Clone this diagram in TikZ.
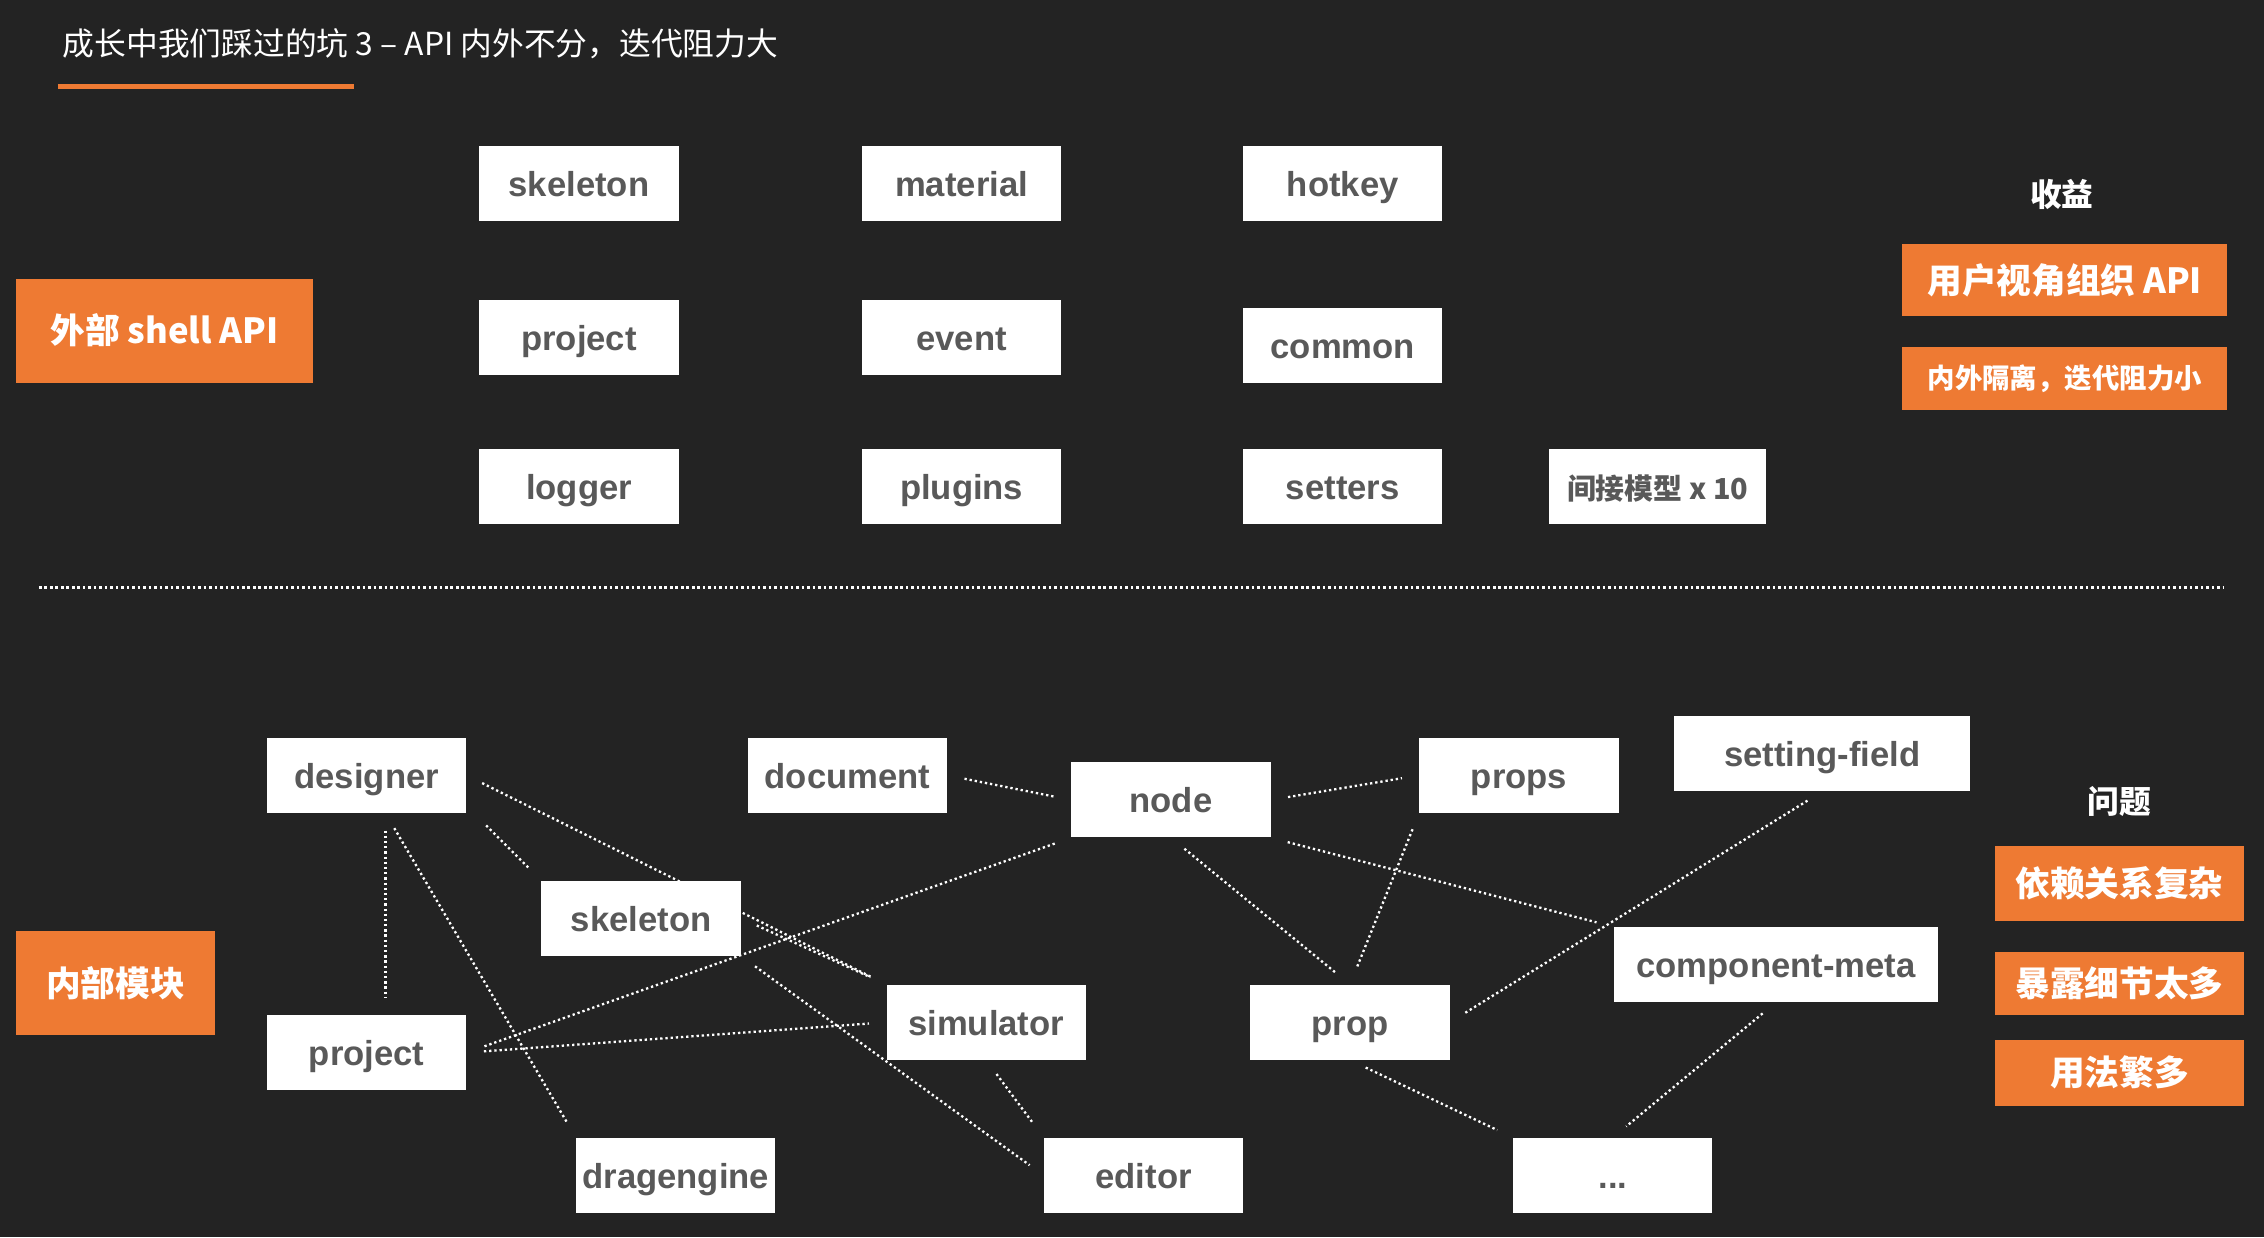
\documentclass[tikz,border=0pt]{standalone}
\usepackage{fontspec}
\setmainfont{Liberation Sans}
\newfontfamily\cjk{Noto Sans CJK SC}
\begin{document}
\begin{tikzpicture}[x=1pt,y=-1pt,
  box/.style={fill=white,text=black!65,font=\bfseries\fontsize{24}{28}\selectfont,minimum width=138pt,minimum height=52pt,inner sep=0pt,text height=20pt,text depth=2pt},
  obox/.style={fill=oc,text=white,font=\cjk\bfseries\fontsize{24}{28}\selectfont,inner sep=0pt},
  dl/.style={white,dotted,line width=1.6pt,shorten >=12pt,shorten <=12pt}]
\definecolor{oc}{HTML}{EE7A33}
\definecolor{bg}{HTML}{232323}
\fill[bg] (0,0) rectangle (1568,857);
\useasboundingbox (0,0) rectangle (1568,857);
\node[anchor=west,text=white,font=\cjk\fontsize{22}{26}\selectfont] (title) at (40,30) {成长中我们踩过的坑 3 – API 内外不分，迭代阻力大};
\draw[oc,line width=3pt] (40,60) -- (245,60);
% top
\node[box] (t1) at (401,127) {skeleton};
\node[box] (t2) at (666,127) {material};
\node[box] (t3) at (930,127) {hotkey};
\node[box] (t4) at (401,234) {project};
\node[box] (t5) at (666,234) {event};
\node[box] (t6) at (930,239) {common};
\node[box] (t7) at (401,337) {logger};
\node[box] (t8) at (666,337) {plugins};
\node[box] (t9) at (930,337) {setters};
\node[box,minimum width=150pt,font=\cjk\bfseries\fontsize{20}{24}\selectfont] (t10) at (1148,337) {间接模型 x 10};
\node[obox,minimum width=206pt,minimum height=72pt] (ext) at (114,229) {外部 shell API};
\node[text=white,font=\cjk\bfseries\fontsize{22}{26}\selectfont] (gain) at (1428,135) {收益};
\node[obox,minimum width=225pt,minimum height=50pt] (g1) at (1430,194) {用户视角组织 API};
\node[obox,minimum width=225pt,minimum height=44pt,font=\cjk\bfseries\fontsize{19}{22}\selectfont] (g2) at (1430,262) {内外隔离，迭代阻力小};
\draw[white,dotted,line width=1.8pt] (27,407) -- (1540,407);
% bottom
\node[box] (designer) at (254,537) {designer};
\node[box] (document) at (587,537) {document};
\node[box] (node) at (811,554) {node};
\node[box] (props) at (1052,537) {props};
\node[box,minimum width=205pt] (sf) at (1262,522) {setting-field};
\node[box] (skel) at (444,636) {skeleton};
\node[box] (sim) at (683,708) {simulator};
\node[box] (prop) at (935,708) {prop};
\node[box,minimum width=225pt] (cm) at (1230,668) {component-meta};
\node[box] (project) at (254,729) {project};
\node[box] (drag) at (468,814) {dragengine};
\node[box] (editor) at (792,814) {editor};
\node[box] (dots) at (1117,814) {...};
\node[obox,minimum width=138pt,minimum height=72pt] (int) at (80,681) {内部模块};
\node[text=white,font=\cjk\bfseries\fontsize{22}{26}\selectfont] (q) at (1468,555) {问题};
\node[obox,minimum width=172pt,minimum height=52pt] (q1) at (1468,612) {依赖关系复杂};
\node[obox,minimum width=172pt,minimum height=44pt] (q2) at (1468,681) {暴露细节太多};
\node[obox,minimum width=172pt,minimum height=46pt] (q3) at (1468,743) {用法繁多};
% connectors
\draw[dl] ([xshift=5pt]designer.south east) -- (skel.north west);
\draw[dl] (designer.east) -- (sim.north west);
\draw[dl] ([xshift=13pt]designer.south) -- (drag.north west);
\draw[dl] ([xshift=13pt]designer.south) -- ([xshift=13pt]project.north);
\draw[dl] (document.east) -- (node.west);
\draw[dl] (node.south west) -- (project.east);
\draw[dl] (node.east) -- (props.west);
\draw[dl] (node.south) -- (prop.north);
\draw[dl] (node.south east) -- (cm.north west);
\draw[dl] (props.south west) -- (prop.north);
\draw[dl] (sf.south) -- (prop.east);
\draw[dl] (project.east) -- (sim.west);
\draw[dl] (skel.east) -- (sim.north west);
\draw[dl] (skel.south east) -- (editor.west);
\draw[dl] (sim.south) -- (editor.north west);
\draw[dl] (prop.south) -- (dots.north west);
\draw[dl] (cm.south) -- (dots.north);
\end{tikzpicture}
\end{document}
